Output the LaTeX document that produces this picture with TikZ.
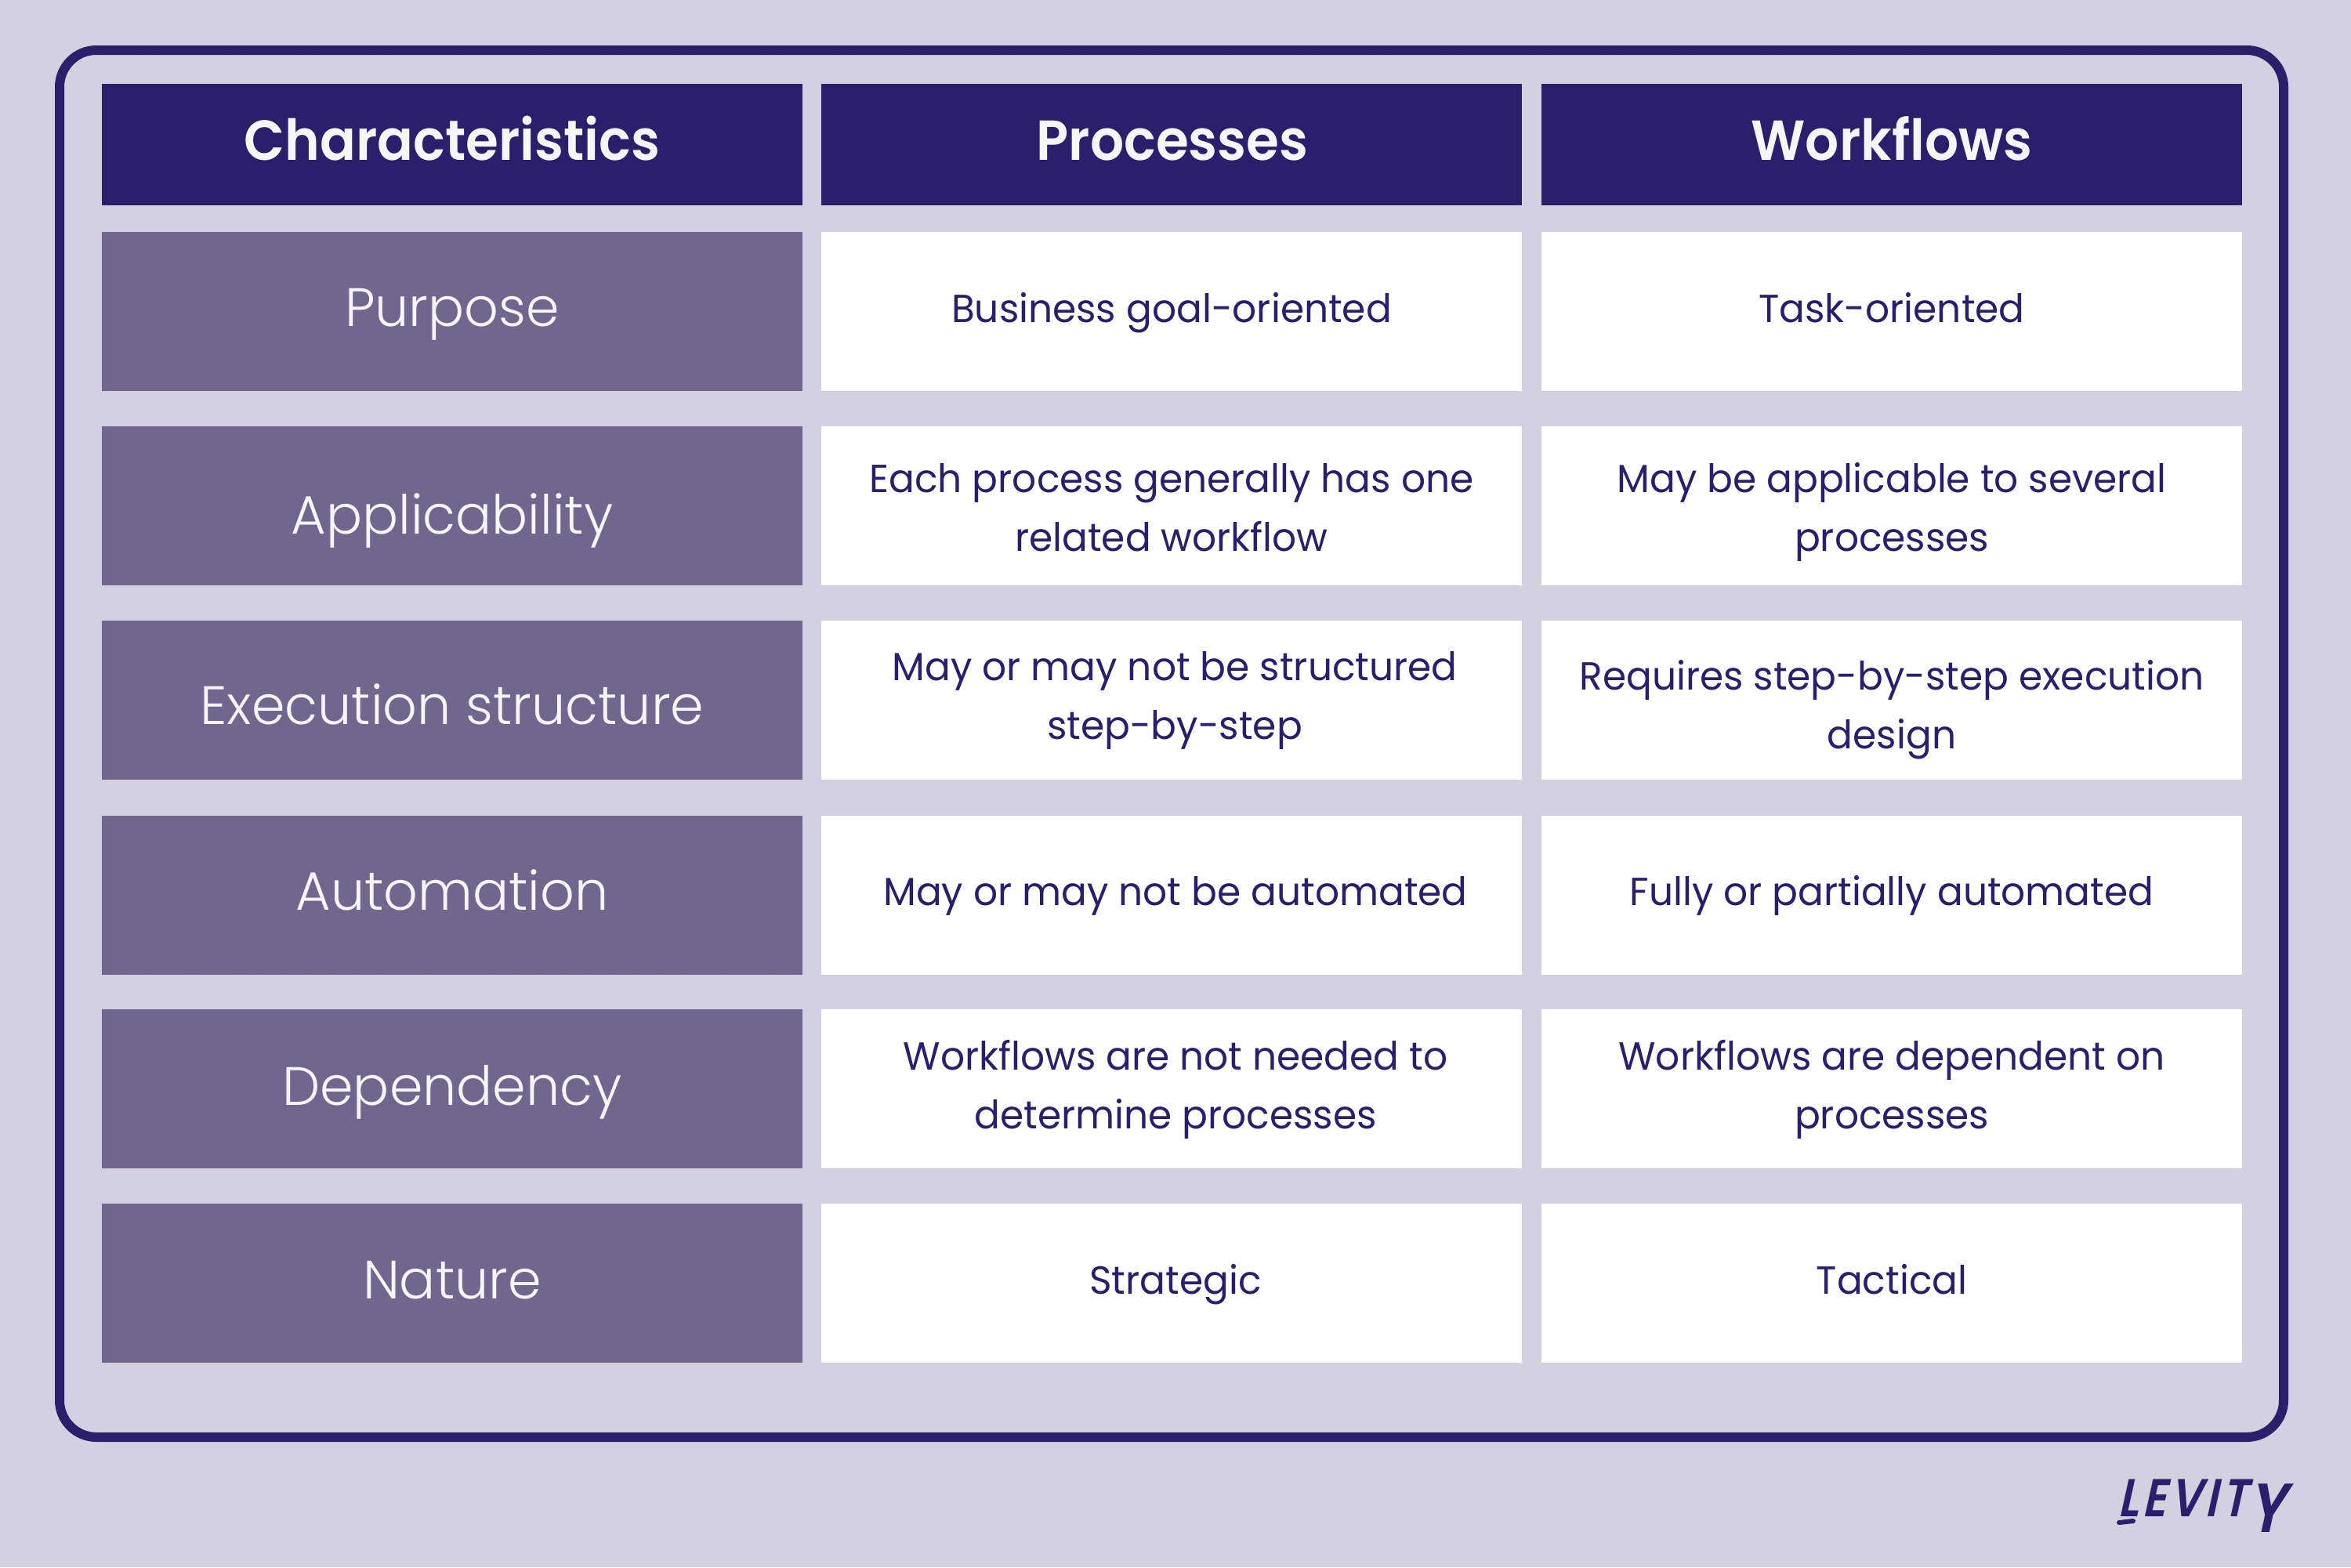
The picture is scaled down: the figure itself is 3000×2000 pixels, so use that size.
\documentclass[tikz,border=0pt]{standalone}
\usepackage{fontspec}
\setmainfont{Poppins}
\newfontfamily\bodyf[FakeStretch=0.972]{Poppins}
\newfontfamily\sidef[FakeStretch=0.99]{Poppins Light}
\newfontfamily\headf[FakeStretch=0.94]{Poppins SemiBold}
\newfontfamily\logof[FakeSlant=0.22,FakeStretch=0.84,LetterSpace=7]{Poppins SemiBold}
\definecolor{bgc}{HTML}{D3D0DF}
\definecolor{navy}{HTML}{2B1F6C}
\definecolor{plum}{HTML}{70668E}
\definecolor{paper}{HTML}{F6F5FA}
\tikzset{
  x=1pt,y=-1pt,
  box/.style={draw=none,inner sep=0pt,outer sep=0pt,rectangle,anchor=north west,minimum width=893.5pt},
  headtxt/.style={anchor=base,inner sep=0pt,align=center,text=paper,font=\headf\fontsize{72}{80}\selectfont},
  sidetxt/.style={anchor=base,inner sep=0pt,align=center,text=paper,font=\sidef\fontsize{69}{80}\selectfont},
  bodytxt/.style={anchor=base,inner sep=0pt,align=center,text=navy,font=\bodyf\fontsize{50}{74.5}\selectfont},
}
\begin{document}
\begin{tikzpicture}
\useasboundingbox (0,0) rectangle (3000,2000);
\fill[bgc] (0,0) rectangle (3000,2000);
\draw[navy,line width=12pt,rounded corners=47pt] (76,64) rectangle (2914,1834);
% header
\node[box,fill=navy,minimum height=155pt] (h1) at (130,107) {};
\node[box,fill=navy,minimum height=155pt] (h2) at (1048,107) {};
\node[box,fill=navy,minimum height=155pt] (h3) at (1967,107) {};
\node[headtxt] (th1) at (577,204) {Characteristics};
\node[headtxt] (th2) at (1496,204) {Processes};
\node[headtxt] (th3) at (2414,204) {Workflows};
% rows
\foreach \nm/\yy in {a/296,b/544,c/792,d/1041,e/1288,f/1536}{
  \node[box,fill=plum,minimum height=203pt] (\nm1) at (130,\yy) {};
  \node[box,fill=white,minimum height=203pt] (\nm2) at (1048,\yy) {};
  \node[box,fill=white,minimum height=203pt] (\nm3) at (1967,\yy) {};
}
\node[sidetxt] (ta1) at (577,416) {Purpose};
\node[sidetxt] (tb1) at (577,681) {Applicability};
\node[sidetxt] (tc1) at (577,924) {Execution structure};
\node[sidetxt] (td1) at (577,1161) {Automation};
\node[sidetxt] (te1) at (577,1410) {Dependency};
\node[sidetxt] (tf1) at (577,1657) {Nature};
\node[bodytxt] (ta2) at (1495,411) {Business goal-oriented};
\node[bodytxt] (ta3) at (2414,411) {Task-oriented};
\node[bodytxt] (tb2) at (1495,703) {Each process generally has one\\related workflow};
\node[bodytxt] (tb3) at (2414,703) {May be applicable to several\\processes};
\node[bodytxt] (tc2) at (1499,943) {May or may not be structured\\step-by-step};
\node[bodytxt] (tc3) at (2414,955) {Requires step-by-step execution\\design};
\node[bodytxt] (td2) at (1500,1155) {May or may not be automated};
\node[bodytxt] (td3) at (2414,1155) {Fully or partially automated};
\node[bodytxt] (te2) at (1500,1440) {Workflows are not needed to\\determine processes};
\node[bodytxt] (te3) at (2414,1440) {Workflows are dependent on\\processes};
\node[bodytxt] (tf2) at (1500,1651) {Strategic};
\node[bodytxt] (tf3) at (2414,1651) {Tactical};
% logo
\node[anchor=base west,inner sep=0pt,text=navy,font=\logof\fontsize{68}{70}\selectfont] (logo) at (2702,1935) {LEVIT\raisebox{-20pt}{\scalebox{1.3}{Y}}};
\draw[navy,line width=6pt,line cap=round] (2704,1943) -- (2722,1941);
\end{tikzpicture}
\end{document}
